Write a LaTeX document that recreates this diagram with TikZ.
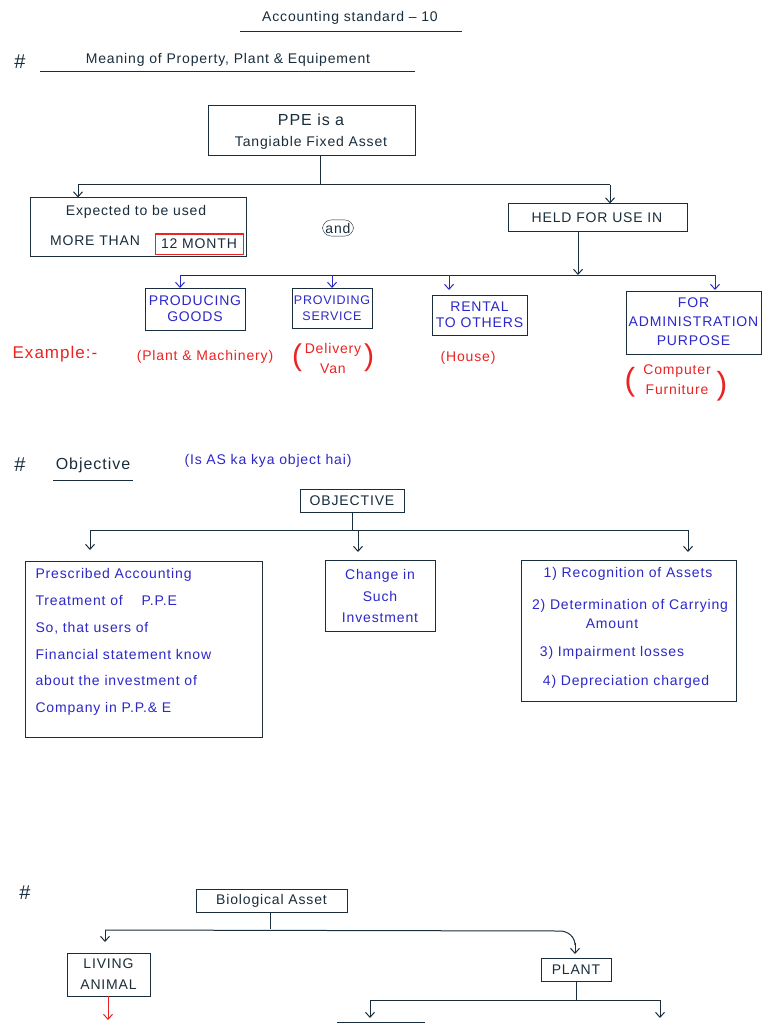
\documentclass[tikz,border=0pt]{standalone}
\usepackage{fontspec}
\setmainfont{Liberation Sans}[LetterSpace=6]
\usetikzlibrary{arrows.meta}
\definecolor{ink}{RGB}{25,45,60}
\definecolor{bl}{RGB}{45,40,200}
\definecolor{rd}{RGB}{235,35,35}
\begin{document}
\begin{tikzpicture}[x=1pt,y=-1pt,
 box/.style={draw=ink,line width=1pt,rectangle,inner sep=0pt},
 t/.style={text=ink,font=\fontsize{14}{16}\selectfont},
 b/.style={text=bl,font=\fontsize{14}{16}\selectfont},
 r/.style={text=rd,font=\fontsize{14}{16}\selectfont},
 ln/.style={draw=ink,line width=1pt},
 ar/.style={ln,-{Straight Barb[length=5pt,width=9pt]}},
 bar/.style={draw=bl,line width=1pt,-{Straight Barb[length=5pt,width=9pt]}}]
\useasboundingbox[fill=white] (0,0) rectangle (768,1024);
% title
\node[t] (title) at (350,18) {Accounting standard -- 10};
\draw[ln] (240,32) -- (462,32);
\node[t,font=\fontsize{20}{22}\selectfont] (h1) at (20,62) {\#};
\node[t] (mean) at (228,60) {Meaning of Property, Plant \& Equipement};
\draw[ln] (40,72) -- (415,72);
% PPE
\node[box,minimum width=207,minimum height=50] (ppe) at (311.5,131) {};
\node[t,font=\fontsize{16}{18}\selectfont] (ppe1) at (311,120) {PPE is a};
\node[t] (ppe2) at (311,143) {Tangiable Fixed Asset};
\coordinate (j1) at (320,185);
\coordinate (jl) at (78,185);
\coordinate (jr) at (610,185);
\draw[ln] (320,156) -- (j1);
\draw[ln] (jl) -- (jr);
\node[box,minimum width=216,minimum height=58] (exp) at (138,227) {};
\node[t] (exp1) at (136,212) {Expected to be used};
\node[t] (exp2) at (95,241) {MORE THAN};
\node[t,draw=rd,line width=1pt,inner sep=0pt,minimum width=88,minimum height=20] (m12) at (199,244) {12 MONTH};
\draw[ar] (jl) -- (exp.north -| jl);
\node[t,draw=ink,rounded corners=9pt,inner sep=3pt] (and) at (338,228) {and};
\node[box,minimum width=179,minimum height=28] (held) at (597.5,218) {};
\node[t] (heldt) at (597,218) {HELD FOR USE IN};
\draw[ar] (jr) -- (held.north -| jr);
\coordinate (k) at (578,275);
\draw[ar] (578,232) -- (k);
\coordinate (k1) at (180,275); \coordinate (k4) at (715,275);
\draw[ln] (k1) -- (k4);
\node[box,minimum width=100,minimum height=42] (pg) at (195,309) {};
\node[b,align=center] (pgt) at (195,309) {PRODUCING\\GOODS};
\node[box,minimum width=80,minimum height=40] (ps) at (332,308) {};
\node[b,align=center,font=\fontsize{12.5}{16}\selectfont] (pst) at (332,308) {PROVIDING\\SERVICE};
\node[box,minimum width=95,minimum height=40] (ro) at (479.5,315) {};
\node[b,align=center] (rot) at (479.5,315) {RENTAL\\TO OTHERS};
\node[box,minimum width=135,minimum height=63] (ad) at (693.5,322.5) {};
\node[b,align=center,font=\fontsize{14}{19}\selectfont] (adt) at (693.5,322) {FOR\\ADMINISTRATION\\PURPOSE};
\draw[bar] (180,275) -- (180,288);
\draw[bar] (332,275) -- (332,288);
\draw[bar] (449,275) -- (449,290);
\draw[bar] (715,275) -- (715,290);
\node[r,font=\fontsize{17}{19}\selectfont] (ex) at (55,354) {Example:-};
\node[r] (pm) at (205,357) {(Plant \& Machinery)};
\node[r,align=center,font=\fontsize{14}{20}\selectfont] (dv) at (333,358) {Delivery\\Van};
\node[r,font=\fontsize{30}{32}\selectfont] (dvl) at (297,358) {(};
\node[r,font=\fontsize{30}{32}\selectfont] (dvr) at (369,358) {)};
\node[r] (hs) at (468,358) {(House)};
\node[r,align=center,font=\fontsize{14}{20}\selectfont] (cf) at (677,380) {Computer\\Furniture};
\node[r,font=\fontsize{32}{34}\selectfont] (cfl) at (630,382) {(};
\node[r,font=\fontsize{32}{34}\selectfont] (cfr) at (722,386) {)};
% section 2
\node[t,font=\fontsize{20}{22}\selectfont] (h2) at (20,465) {\#};
\node[t,font=\fontsize{16}{18}\selectfont] (objh) at (93,465) {Objective};
\draw[ln] (53,480) -- (133,480);
\node[b] (objn) at (268,461) {(Is AS ka kya object hai)};
\node[box,minimum width=104,minimum height=23] (obj) at (352,500.5) {};
\node[t] (objt) at (352,500.5) {OBJECTIVE};
\coordinate (o) at (352,530);
\draw[ln] (obj.south) -- (o);
\draw[ln] (90,530) -- (688,530);
\draw[ar] (90,530) -- (90,550);
\draw[ar] (358,530) -- (358,552);
\draw[ar] (688,530) -- (688,552);
\node[box,minimum width=237,minimum height=176] (lb) at (143.5,649) {};
\node[b,align=left,anchor=north west,font=\fontsize{14}{26.8}\selectfont] (lbt) at (32,565) {Prescribed Accounting\\Treatment of \quad P.P.E\\So, that users of\\Financial statement know\\about the investment of\\Company in P.P.\& E};
\node[box,minimum width=110,minimum height=71] (mb) at (380,595.5) {};
\node[b,align=center,font=\fontsize{14}{21.5}\selectfont] (mbt) at (380,596) {Change in\\Such\\Investment};
\node[box,minimum width=215,minimum height=141] (rb) at (628.5,630.5) {};
\node[b] (r1) at (628,574) {1) Recognition of Assets};
\node[b] (r2) at (630,606) {2) Determination of Carrying};
\node[b] (r2b) at (612,624) {Amount};
\node[b] (r3) at (612,653) {3) Impairment losses};
\node[b] (r4) at (626,682) {4) Depreciation charged};
% section 3
\node[t,font=\fontsize{20}{22}\selectfont] (h3) at (25,893) {\#};
\node[box,minimum width=151,minimum height=23] (bio) at (271.5,900.5) {};
\node[t] (biot) at (271.5,900.5) {Biological Asset};
\draw[ln] (270,912) -- (270,929);
\draw[ln] (105,930) -- (560,931) to[out=0,in=90] (575,945);
\draw[ar] (105,930) -- (105,942);
\draw[ar] (575,943) -- (575,954);
\node[box,minimum width=83,minimum height=43] (la) at (108.5,974.5) {};
\node[t,align=center,font=\fontsize{14}{21}\selectfont] (lat) at (108.5,974.5) {LIVING\\ANIMAL};
\draw[draw=rd,line width=1pt,-{Straight Barb[length=5pt,width=9pt]}] (108,996) -- (108,1020);
\node[box,minimum width=70,minimum height=23] (pl) at (576,969.5) {};
\node[t] (plt) at (576,969.5) {PLANT};
\draw[ln] (pl.south) -- (576,1000);
\draw[ln] (370,1000) -- (660,1000);
\draw[ar] (370,1000) -- (370,1018);
\draw[ar] (660,1000) -- (660,1018);
\draw[ln] (337,1022) -- (425,1022);
\end{tikzpicture}
\end{document}
